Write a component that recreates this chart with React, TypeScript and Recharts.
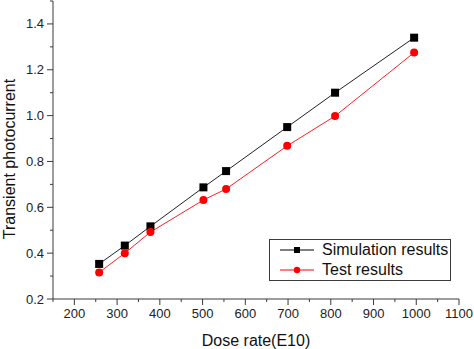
import React from "react";
import { LineChart, Line, XAxis, YAxis } from "recharts";

// dose rate (E10) at each measured point
const doseRates = [258, 318, 378, 502, 555, 698, 810, 995];
// transient photocurrent values
const simulation = [0.353, 0.433, 0.517, 0.687, 0.758, 0.95, 1.1, 1.34];
const measured = [0.316, 0.4, 0.492, 0.632, 0.68, 0.868, 0.998, 1.275];

const xTicks = [150, 200, 250, 300, 350, 400, 450, 500, 550, 600, 650, 700, 750, 800, 850, 900, 950, 1000, 1050, 1100];
const xLabels = [200, 300, 400, 500, 600, 700, 800, 900, 1000, 1100];
const yTicks = [0.2, 0.3, 0.4, 0.5, 0.6, 0.7, 0.8, 0.9, 1.0, 1.1, 1.2, 1.3, 1.4, 1.5];
const yLabels = ["0.2", "0.4", "0.6", "0.8", "1.0", "1.2", "1.4"];

const FONT = "'Liberation Sans', Arial, sans-serif";
const AXIS = "#3a3a3a";

const rows = doseRates.map((d, i) => ({
    dose: d,
    sim: simulation[i],
    test: measured[i],
}));

function XTick(props: any) {
    const { x, y, payload } = props;
    const major = xLabels.includes(payload.value);
    return (
        <g>
            <line x1={x} y1={y} x2={x} y2={y + (major ? 6 : 3)} stroke={AXIS} strokeWidth={1} />
            {major && (
                <text x={x} y={y + 19} textAnchor="middle" fontSize={13} fontFamily={FONT} fill="#222">
                    {payload.value}
                </text>
            )}
        </g>
    );
}

function YTick(props: any) {
    const { x, y, payload } = props;
    const label = payload.value.toFixed(1);
    const major = yLabels.includes(label);
    return (
        <g>
            <line x1={x} y1={y} x2={x - (major ? 6 : 3)} y2={y} stroke={AXIS} strokeWidth={1} />
            {major && (
                <text x={x - 9} y={y} dy="0.35em" textAnchor="end" fontSize={13} fontFamily={FONT} fill="#222">
                    {label}
                </text>
            )}
        </g>
    );
}

function SquareDot(props: any) {
    const { cx, cy, index } = props;
    return <rect key={"s" + index} x={cx - 4} y={cy - 4} width={8} height={8} fill="#000" />;
}

function CircleDot(props: any) {
    const { cx, cy, index } = props;
    return <circle key={"c" + index} cx={cx} cy={cy} r={4} fill="#ff0000" />;
}

function LegendBox() {
    const item = (label: string, color: string, square: boolean) => (
        <div style={{ display: "flex", alignItems: "center", height: 20 }}>
            <svg width={50} height={20}>
                <line x1={10} y1={10} x2={44} y2={10} stroke={color} strokeWidth={1} />
                {square ? (
                    <rect x={24} y={7} width={6} height={6} fill={color} />
                ) : (
                    <circle cx={27} cy={10} r={3.2} fill={color} />
                )}
            </svg>
            <span style={{ fontFamily: FONT, fontSize: 16, color: "#111", marginLeft: 2 }}>{label}</span>
        </div>
    );
    return (
        <div
            style={{
                position: "absolute",
                left: 269,
                top: 239,
                width: 180,
                height: 40,
                border: `1px solid ${AXIS}`,
                background: "#fff",
                paddingTop: 0,
                boxSizing: "content-box",
            }}
        >
            {item("Simulation results", "#000", true)}
            {item("Test results", "#ff0000", false)}
        </div>
    );
}

export default function App() {
    return (
        <div style={{ position: "absolute", left: 0, top: 0, width: 474, height: 349, background: "#fff" }}>
            <LineChart width={474} height={349} data={rows} margin={{ top: 1, right: 15, left: 0, bottom: 0 }}>
                <XAxis
                    dataKey="dose"
                    type="number"
                    domain={[150, 1100]}
                    ticks={xTicks}
                    interval={0}
                    height={50}
                    stroke={AXIS}
                    tickLine={false}
                    tickSize={0}
                    tickMargin={0}
                    tick={<XTick />}
                    allowDataOverflow
                    label={{
                        value: "Dose rate(E10)",
                        position: "insideBottom",
                        offset: 3,
                        fontSize: 16,
                        fontFamily: FONT,
                        fill: "#111",
                    }}
                />
                <YAxis
                    type="number"
                    domain={[0.2, 1.5]}
                    ticks={yTicks}
                    interval={0}
                    width={53}
                    stroke={AXIS}
                    tickLine={false}
                    tickSize={0}
                    tickMargin={0}
                    tick={<YTick />}
                    allowDataOverflow
                    label={{
                        content: () => (
                            <text
                                x={9}
                                y={159}
                                transform="rotate(-90 9 159)"
                                textAnchor="middle"
                                dominantBaseline="central"
                                fontSize={16}
                                fontFamily={FONT}
                                fill="#111"
                            >
                                Transient photocurrent
                            </text>
                        ),
                    }}
                />
                <Line
                    type="linear"
                    dataKey="sim"
                    stroke="#222"
                    strokeWidth={1}
                    dot={<SquareDot />}
                    activeDot={false}
                    isAnimationActive={false}
                />
                <Line
                    type="linear"
                    dataKey="test"
                    stroke="#ff2020"
                    strokeWidth={1}
                    dot={<CircleDot />}
                    activeDot={false}
                    isAnimationActive={false}
                />
            </LineChart>
            <LegendBox />
        </div>
    );
}
